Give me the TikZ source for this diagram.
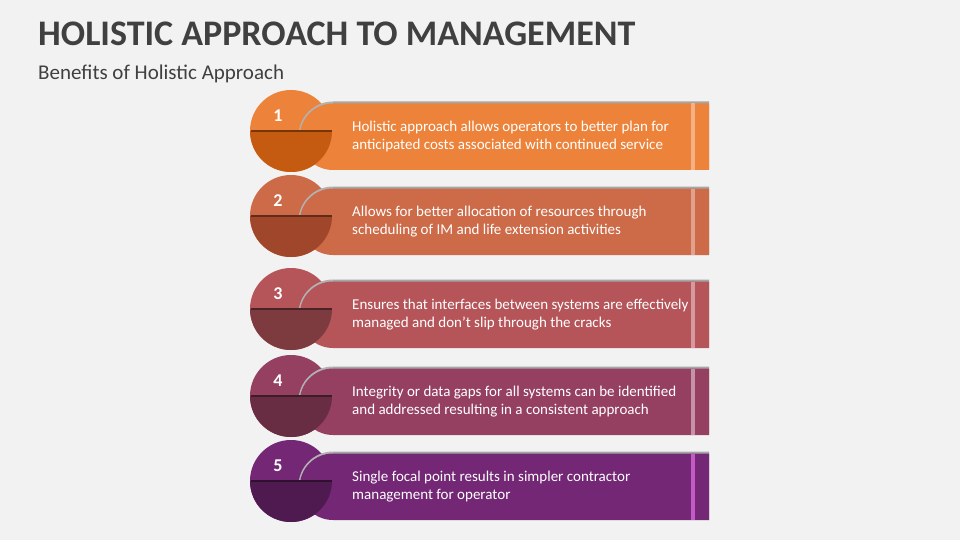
\documentclass[tikz,border=0pt]{standalone}
\usepackage{fontspec}
\setmainfont{Carlito}
\begin{document}
\begin{tikzpicture}[x=1pt,y=-1pt]
\fill[black!5] (0,0) rectangle (960,540);
\useasboundingbox (0,0) rectangle (960,540);
\node[anchor=west,inner sep=0,text=black!75,font=\fontsize{36}{40}\selectfont\bfseries] (title) at (38,34) {HOLISTIC APPROACH TO MANAGEMENT};
\node[anchor=west,inner sep=0,text=black!75,font=\fontsize{21}{24}\selectfont] (sub) at (38,74) {Benefits of Holistic Approach};
\tikzset{txt/.style={anchor=west,align=left,text=white,inner sep=0,font=\fontsize{15}{18}\selectfont},
num/.style={text=white,inner sep=0,font=\fontsize{18}{20}\selectfont\bfseries}}
\foreach \i/\yt/\c/\d/\s/\t in {
1/103/ED833A/C55A11/F4B183/{Holistic approach allows operators to better plan for\\anticipated costs associated with continued service},
2/188/CD6A47/A0472B/E0A28E/{Allows for better allocation of resources through\\scheduling of IM and life extension activities},
3/281/B5555A/7E3B3F/D49A9D/{Ensures that interfaces between systems are effectively\\managed and don't slip through the cracks},
4/368/954060/682C43/C692A8/{Integrity or data gaps for all systems can be identified\\and addressed resulting in a consistent approach},
5/453/732775/4F1A50/C25BC4/{Single focal point results in simpler contractor\\management for operator}}{
\definecolor{cA}{HTML}{\c}\definecolor{cD}{HTML}{\d}\definecolor{cS}{HTML}{\s}
\pgfmathsetmacro\cy{\yt+28}
\coordinate (c\i) at (291,\cy);
\fill[cA] (c\i) circle (41);
\fill[black!35] (333,\yt-1.5) -- (709,\yt-1.5) -- (709,\yt+66) -- (333,\yt+66) -- (333,\yt+33) -- cycle;
\fill[black!30] (333,\yt-1.5) arc (-90:-180:34.5) -- (333,\yt+33) -- cycle;
\fill[cA] (333,\yt+0.5) -- (709,\yt+0.5) -- (709,\yt+67) -- (333,\yt+67) arc (-270:-90:33.25) -- cycle;
\fill[cS] (691,\yt+0.5) rectangle (695,\yt+67);
\begin{scope}
\clip (c\i) circle (41);
\fill[cD] (240,\cy) rectangle (340,\cy+50);
\end{scope}
\draw[cD!60!black,line width=1.2] (250.5,\cy) -- (331.5,\cy);
\node[num] (n\i) at (278,\cy-15) {\i};
\node[txt] (t\i) at (352,\yt+33.5) {\t};
}
\end{tikzpicture}
\end{document}
